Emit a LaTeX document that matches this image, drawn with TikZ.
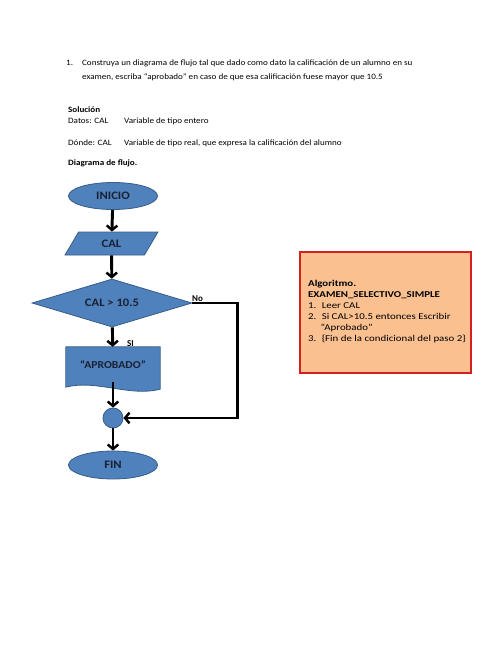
\documentclass[tikz,border=0pt]{standalone}
\usepackage{fontspec}
\setmainfont{Carlito}
\newfontfamily\bodyfont{Carlito}[FakeStretch=1.11]
\newfontfamily\boxfont{Carlito}[FakeStretch=1.21]
\newfontfamily\nodefont{Carlito}[FakeStretch=1.1]
\usetikzlibrary{shapes.geometric,arrows.meta}
\definecolor{nodefill}{HTML}{4F81BD}
\definecolor{nodeline}{HTML}{385D8A}
\definecolor{nodetext}{HTML}{1A2133}
\definecolor{algofill}{HTML}{FAC090}
\definecolor{algoline}{HTML}{D42020}
\tikzset{
  flowshape/.style={fill=nodefill,draw=nodeline,line width=1pt,text=nodetext,font=\nodefont\bfseries\fontsize{14}{16}\selectfont,inner sep=0pt},
  flowarrow/.style={line width=3.6pt,-{Straight Barb[length=5.5pt,width=13pt,line width=3pt]}},
  bodytext/.style={anchor=base west,inner sep=0pt,font=\bodyfont\fontsize{10}{12}\selectfont},
  label text/.style={anchor=base west,inner sep=0pt,font=\bfseries\fontsize{11}{13}\selectfont}
}
\begin{document}
\begin{tikzpicture}[x=1.224pt,y=-1.224pt]
\useasboundingbox (0,0) rectangle (500,647);
\fill[white] (0,0) rectangle (500,647);
% header text
\node[bodytext] (n1) at (66,65) {1.};
\node[bodytext] (t1) at (82,65) {Construya un diagrama de flujo tal que dado como dato la calificación de un alumno en su};
\node[bodytext] (t2) at (82,79) {examen, escriba “aprobado” en caso de que esa calificación fuese mayor que 10.5};
\node[bodytext,font=\bodyfont\bfseries\fontsize{10}{12}\selectfont] (sol) at (68,112) {Solución};
\node[bodytext] (d1) at (68,123) {Datos: CAL};
\node[bodytext] (d2) at (124,123) {Variable de tipo entero};
\node[bodytext] (w1) at (68,145) {Dónde: CAL};
\node[bodytext] (w2) at (124,145) {Variable de tipo real, que expresa la calificación del alumno};
\node[bodytext,font=\bodyfont\bfseries\fontsize{10}{12}\selectfont] (dg) at (68,165) {Diagrama de flujo.};
% flowchart
\node[flowshape,ellipse,minimum width=89*1.224pt,minimum height=27*1.224pt] (inicio) at (113,196) {INICIO};
\node[flowshape,trapezium,trapezium left angle=62,trapezium right angle=118,trapezium stretches=true,minimum width=93*1.224pt,minimum height=23*1.224pt] (cal) at (111.5,243.5) {CAL};
\node[flowshape,diamond,minimum width=160*1.224pt,minimum height=48*1.224pt,aspect=3.3] (cond) at (112,303) {CAL > 10.5};
\node[minimum width=94*1.224pt,minimum height=38*1.224pt,inner sep=0pt] (aprob) at (113,366) {};
\fill[fill=nodefill,draw=nodeline,line width=1pt] (aprob.north west) -- (aprob.north east) -- ([yshift=-4*1.224pt]aprob.south east)
  .. controls ([xshift=-30*1.224pt,yshift=-12*1.224pt]aprob.south east) and ([xshift=30*1.224pt,yshift=6*1.224pt]aprob.south west) .. ([yshift=-2*1.224pt]aprob.south west) -- cycle;
\node[text=nodetext,font=\nodefont\bfseries\fontsize{13}{16}\selectfont,inner sep=0pt] (aprobtxt) at (113,365) {“APROBADO”};
\node[flowshape,circle,minimum size=20*1.224pt] (join) at (113,418) {};
\node[flowshape,ellipse,minimum width=89*1.224pt,minimum height=28*1.224pt] (fin) at (113,465) {FIN};
\coordinate (c1) at (237.5,303);
\coordinate (c2) at (237.5,418);
\draw[flowarrow] (inicio) -- (cal);
\draw[flowarrow] (cal) -- (cond);
\draw[flowarrow] (cond) -- (aprob);
\draw[flowarrow] ([yshift=3*1.224pt]aprob.south) -- (join);
\draw[flowarrow] (join) -- (fin);
\draw[flowarrow] (cond.east) -- (c1) -- (c2) -- (join);
\node[label text] (no) at (192,301) {No};
\node[label text] (si) at (127,346) {SI};
% algorithm box
\node[draw=algoline,fill=algofill,line width=1.6pt,minimum width=171*1.224pt,minimum height=121*1.224pt,inner sep=0pt] (algo) at (385.5,312.5) {};
\node[anchor=north west,inner sep=0pt,align=left,font=\boxfont\fontsize{11}{13.4}\selectfont] (algotxt) at (308,280) {%
\textbf{Algoritmo.}\\
\textbf{EXAMEN\_SELECTIVO\_SIMPLE}\\
1.\hspace{0.6em}Leer CAL\\
2.\hspace{0.6em}Si CAL>10.5 entonces Escribir\\
\hspace{1.4em}“Aprobado”\\
3.\hspace{0.6em}\{Fin de la condicional del paso 2\}};
\end{tikzpicture}
\end{document}
